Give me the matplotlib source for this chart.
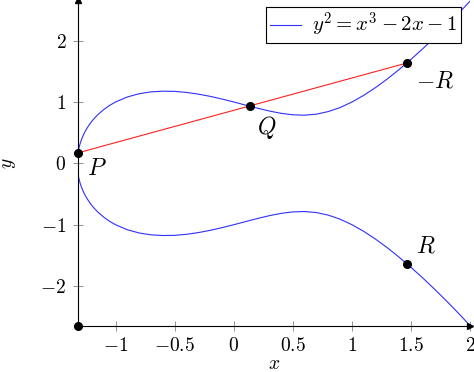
import matplotlib
matplotlib.use("Agg")
import matplotlib.pyplot as plt

plt.rcParams['mathtext.fontset'] = 'cm'
plt.rcParams['font.family'] = 'serif'
plt.rcParams['font.serif'] = ['DejaVu Serif']

# upper branch of the curve (lower branch is the mirror)
curve_x = [-1.3247, -1.324, -1.3235, -1.32, -1.315, -1.31, -1.3, -1.29, -1.28, -1.27,
           -1.26, -1.25, -1.24, -1.22, -1.2, -1.18, -1.15, -1.1, -1.05, -1.0,
           -0.9, -0.8, -0.7, -0.6, -0.5, -0.4, -0.3, -0.2, -0.1, 0.0,
           0.1, 0.2, 0.3, 0.4, 0.5, 0.6, 0.7, 0.8, 0.9, 1.0,
           1.1, 1.2, 1.3, 1.4, 1.5, 1.6, 1.7, 1.8, 1.9, 2.0]
curve_y = [0.0, 0.055, 0.072, 0.141, 0.203, 0.249, 0.321, 0.379, 0.428, 0.471,
           0.510, 0.545, 0.577, 0.636, 0.687, 0.733, 0.793, 0.877, 0.945, 1.0,
           1.082, 1.135, 1.165, 1.176, 1.173, 1.156, 1.128, 1.092, 1.048, 1.0,
           0.949, 0.899, 0.853, 0.815, 0.791, 0.785, 0.802, 0.844, 0.910, 1.0,
           1.109, 1.236, 1.377, 1.531, 1.696, 1.870, 2.053, 2.243, 2.441, 2.646]
curve_y_low = [-v for v in curve_y]

# named points and where their labels sit
P = (-1.32, 0.17)
Q = (0.133, 0.933)
mR = (1.462, 1.634)
R = (1.462, -1.634)
O = (-1.32, -2.65)
point_labels = [('$P$', -1.16, -0.08), ('$Q$', 0.28, 0.59),
                ('$-R$', 1.70, 1.34), ('$R$', 1.625, -1.35)]

xticks = [-1, -0.5, 0, 0.5, 1, 1.5, 2]
xticklabels = ['$-1$', '$-0.5$', '$0$', '$0.5$', '$1$', '$1.5$', '$2$']
yticks = [-2, -1, 0, 1, 2]
yticklabels = ['$-2$', '$-1$', '$0$', '$1$', '$2$']

fig = plt.figure(figsize=(4.74, 3.72), dpi=100)
ax = fig.add_axes([0.164, 0.1237, 0.828, 0.876])

ax.plot(curve_x, curve_y, color='#3030ff', lw=0.8, label='$y^2 = x^3 - 2x - 1$')
ax.plot(curve_x, curve_y_low, color='#3030ff', lw=0.8)
ax.plot([P[0], mR[0]], [P[1], mR[1]], color='#ff2020', lw=0.8)

for pt in [P, Q, mR, R, O]:
    ax.plot(pt[0], pt[1], 'o', color='black', ms=5.5, clip_on=False, zorder=5)

for txt, tx, ty in point_labels:
    ax.text(tx, ty, txt, fontsize=17, ha='center', va='center')

ax.set_xlim(-1.32, 2.0)
ax.set_ylim(-2.65, 2.66)
ax.set_xticks(xticks)
ax.set_xticklabels(xticklabels, fontsize=14)
ax.set_yticks(yticks)
ax.set_yticklabels(yticklabels, fontsize=14)
ax.tick_params(direction='inout', length=6.5, width=0.6, color='gray', pad=5)

ax.spines['top'].set_visible(False)
ax.spines['right'].set_visible(False)
ax.spines['left'].set_linewidth(0.8)
ax.spines['bottom'].set_linewidth(0.8)
ax.plot(1, 0, '>k', ms=5, transform=ax.transAxes, clip_on=False)
ax.plot(0, 1, '^k', ms=5, transform=ax.transAxes, clip_on=False)

ax.set_xlabel('$x$', fontsize=14, labelpad=0)
ax.set_ylabel('$y$', fontsize=14, labelpad=16)

leg = ax.legend(loc='upper right', fontsize=15, fancybox=False, framealpha=1,
                edgecolor='black', borderpad=0.2, handlelength=1.5,
                handletextpad=0.5, borderaxespad=0,
                bbox_to_anchor=(0.977, 0.979))
leg.get_frame().set_linewidth(0.8)

fig.savefig('out.png', dpi=100)
